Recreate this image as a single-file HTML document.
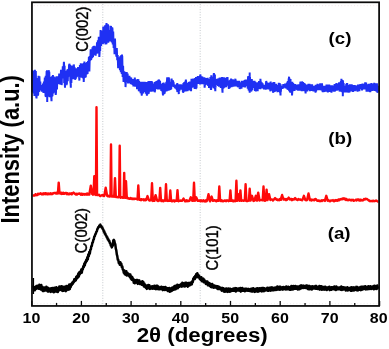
<!DOCTYPE html>
<html><head><meta charset="utf-8"><style>
html,body{margin:0;padding:0;background:#fff;width:389px;height:349px;overflow:hidden}
svg{display:block}
</style></head><body>
<svg width="389" height="349" viewBox="0 0 389 349" font-family="'Liberation Sans', Arial, sans-serif"><line x1="102.8" y1="4" x2="102.8" y2="305" stroke="#c4c8cc" stroke-width="1" stroke-dasharray="1 1.6"/>
<line x1="200.2" y1="4" x2="200.2" y2="305" stroke="#c4c8cc" stroke-width="1" stroke-dasharray="1 1.6"/>
<line x1="34" y1="5.7" x2="378" y2="5.7" stroke="#f3e3e8" stroke-width="0.9" stroke-dasharray="1 2.2"/>
<line x1="34" y1="303.7" x2="378" y2="303.7" stroke="#ececec" stroke-width="0.9" stroke-dasharray="1 2.2"/>
<polyline points="32.20,70.13 32.65,92.27 33.10,70.88 33.55,93.46 34.00,73.52 34.45,96.00 34.90,69.80 35.35,89.57 35.80,70.93 36.25,96.16 36.25,96.71 36.52,98.40 36.70,79.98 36.77,96.16 37.15,93.93 37.60,77.90 37.65,94.70 37.92,95.60 38.05,93.46 38.17,94.70 38.50,75.85 38.95,91.90 39.40,76.22 39.85,87.48 40.30,81.61 40.75,90.52 41.20,85.19 41.65,91.79 42.10,85.49 42.55,91.08 43.00,83.58 43.45,92.92 43.90,81.57 44.35,90.94 44.80,77.45 45.25,89.45 45.55,96.16 45.70,75.81 45.82,97.00 46.07,96.16 46.15,89.32 46.60,71.62 46.95,71.20 46.95,97.00 47.05,91.48 47.20,70.20 47.22,102.00 47.45,71.20 47.47,97.00 47.50,72.00 47.95,89.11 48.35,71.20 48.40,77.46 48.60,70.20 48.85,71.20 48.85,96.56 49.30,71.81 49.75,97.15 50.20,81.47 50.65,95.90 51.10,76.83 51.25,97.00 51.52,101.30 51.55,96.75 51.77,97.00 52.00,76.21 52.45,96.28 52.90,75.11 53.35,93.46 53.80,76.52 54.25,87.29 54.70,77.17 55.15,88.11 55.45,92.74 55.60,78.86 55.72,94.90 55.97,92.74 56.05,85.12 56.50,76.37 56.95,89.55 57.40,76.78 57.85,82.41 58.30,76.31 58.75,83.83 59.20,73.59 59.65,84.36 60.10,73.62 60.55,83.03 61.00,69.80 61.25,84.00 61.45,84.48 61.52,84.90 61.77,84.00 61.90,72.04 62.35,78.18 62.80,66.25 63.25,78.45 63.65,66.20 63.70,66.64 63.90,61.70 64.15,66.20 64.15,82.88 64.60,65.70 64.75,83.16 65.02,87.70 65.05,79.76 65.27,83.16 65.50,70.68 65.95,84.53 66.25,84.00 66.40,70.71 66.52,84.90 66.77,84.00 66.85,84.49 67.30,69.43 67.75,81.21 68.20,69.06 68.65,76.62 69.05,65.02 69.10,65.99 69.30,63.80 69.55,65.02 69.55,76.67 70.00,64.88 70.45,83.30 70.55,81.72 70.82,87.70 70.90,66.48 71.07,81.72 71.35,83.03 71.80,65.59 72.25,77.81 72.70,67.05 73.15,79.26 73.45,65.92 73.60,65.43 73.70,64.50 73.95,65.92 74.05,75.96 74.50,67.02 74.85,78.26 74.95,75.36 75.12,79.80 75.37,78.26 75.40,70.75 75.85,78.72 76.30,68.25 76.75,77.22 77.20,68.36 77.65,76.08 78.10,67.15 78.55,76.48 79.00,69.16 79.15,77.70 79.42,80.60 79.45,76.96 79.67,77.70 79.90,64.91 80.35,75.33 80.80,63.40 81.25,77.59 81.70,67.43 82.15,75.79 82.60,63.71 83.05,78.20 83.45,77.70 83.50,62.98 83.72,82.00 83.95,75.98 83.97,77.70 84.40,61.44 84.85,76.86 84.85,75.75 85.12,77.70 85.30,63.75 85.37,76.86 85.75,77.22 86.20,62.82 86.65,74.38 87.10,61.96 87.55,73.96 88.00,60.92 88.45,70.24 88.90,56.69 89.35,71.38 89.80,56.09 90.25,60.62 90.70,49.18 91.15,59.84 91.60,49.44 92.05,58.22 92.50,47.23 92.95,57.25 93.40,46.04 93.85,55.21 94.30,45.70 94.75,54.85 95.20,47.11 95.65,55.65 96.10,46.36 96.55,53.67 97.00,42.29 97.45,53.15 97.90,40.20 98.35,53.58 98.80,36.67 99.05,53.02 99.25,52.36 99.32,57.00 99.57,53.02 99.70,36.84 100.15,50.87 100.60,30.01 101.05,46.08 101.50,32.02 101.95,43.09 102.40,30.85 102.85,44.29 103.30,26.57 103.75,41.69 104.20,30.33 104.65,43.21 105.10,25.36 105.55,44.50 106.00,26.24 106.25,25.02 106.45,44.34 106.50,23.10 106.75,25.02 106.90,28.92 107.35,39.21 107.65,25.44 107.80,25.16 107.90,24.50 108.15,25.44 108.25,42.70 108.70,30.12 109.15,40.96 109.60,31.02 110.05,41.41 110.50,25.89 110.55,26.90 110.80,25.90 110.95,40.50 111.05,26.90 111.40,30.49 111.85,42.38 111.95,28.34 112.20,27.40 112.30,28.80 112.45,28.34 112.75,44.57 113.20,31.54 113.65,48.02 114.10,39.42 114.55,54.27 115.00,38.44 115.45,53.41 115.90,47.94 116.35,56.72 116.80,47.93 117.25,60.17 117.70,55.06 118.15,68.24 118.60,57.24 119.05,67.04 119.50,57.55 119.95,70.22 120.40,56.07 120.85,72.10 121.30,55.14 121.75,56.14 121.75,73.91 122.00,54.60 122.20,58.01 122.25,56.14 122.65,76.94 123.10,65.87 123.55,82.03 124.00,71.21 124.45,79.84 124.90,71.72 125.25,83.02 125.35,79.06 125.52,87.10 125.77,83.02 125.80,72.83 126.25,82.24 126.70,72.08 127.15,80.95 127.60,73.56 128.05,83.34 128.50,76.01 128.95,83.28 129.40,75.78 129.85,81.53 130.30,77.34 130.75,84.22 131.20,77.66 131.65,82.94 132.10,79.83 132.55,84.99 133.00,79.12 133.45,86.47 133.90,78.96 134.35,85.61 134.80,77.44 135.25,86.67 135.70,80.63 136.15,86.49 136.60,79.89 137.05,89.30 137.50,79.02 137.95,87.33 138.40,79.19 138.85,91.15 139.30,81.14 139.75,91.48 140.20,82.15 140.65,93.22 141.10,84.47 141.55,92.98 141.55,93.48 141.82,95.70 142.00,81.71 142.07,92.98 142.45,93.41 142.90,81.76 143.35,93.38 143.80,85.29 144.25,89.07 144.70,81.73 145.15,91.88 145.60,82.12 146.05,93.69 146.50,82.06 146.65,92.98 146.92,95.70 146.95,91.73 147.17,92.98 147.40,82.88 147.85,94.22 148.30,81.39 148.75,93.59 149.20,80.97 149.65,91.69 150.10,82.91 150.55,91.51 151.00,80.92 151.45,91.63 151.90,81.41 152.35,90.12 152.80,83.48 153.25,91.53 153.70,83.66 154.15,90.61 154.45,90.86 154.60,82.02 154.72,92.30 154.97,90.86 155.05,90.87 155.50,81.78 155.95,89.03 156.40,80.94 156.85,88.48 157.30,80.82 157.75,89.53 158.20,80.82 158.45,80.62 158.65,88.46 158.70,79.50 158.95,80.62 159.10,80.14 159.55,89.53 160.00,80.81 160.45,87.81 160.90,84.11 161.35,90.93 161.80,84.99 162.25,91.45 162.70,83.07 162.75,92.84 163.02,95.50 163.15,93.33 163.27,92.84 163.60,82.56 164.05,91.37 164.15,93.26 164.42,94.10 164.50,83.47 164.67,93.26 164.95,90.56 165.40,83.65 165.85,90.92 166.30,81.86 166.75,91.40 167.05,79.66 167.20,77.78 167.30,77.40 167.55,79.66 167.65,90.33 168.10,77.72 168.45,78.34 168.55,90.82 168.70,77.40 168.95,78.34 169.00,80.57 169.45,90.29 169.90,81.85 170.35,89.99 170.80,83.41 171.25,89.44 171.35,79.80 171.60,78.80 171.70,79.30 171.85,79.80 172.15,86.65 172.60,80.64 172.75,82.50 173.00,80.30 173.05,86.39 173.25,82.50 173.50,81.96 173.95,87.01 174.40,84.78 174.85,88.12 175.30,84.72 175.75,88.57 176.20,84.75 176.65,89.75 177.05,84.38 177.05,90.36 177.10,84.92 177.30,83.10 177.32,91.20 177.55,91.39 177.55,84.38 177.57,90.36 178.00,85.62 178.45,89.21 178.55,90.36 178.82,94.10 178.90,84.21 179.07,90.36 179.35,91.15 179.80,85.00 180.25,88.96 180.70,84.32 181.15,89.59 181.60,84.70 182.05,89.65 182.50,85.23 182.85,91.52 182.95,91.54 183.12,92.70 183.37,91.52 183.40,83.11 183.85,91.77 184.30,82.17 184.75,91.49 185.20,81.47 185.65,91.39 185.65,81.52 185.90,79.50 186.10,84.67 186.15,81.52 186.55,91.05 187.00,83.03 187.45,91.24 187.90,82.93 188.35,89.51 188.80,82.11 189.25,90.55 189.70,81.64 190.15,89.79 190.60,83.38 191.05,91.11 191.50,78.88 191.95,87.77 192.40,81.67 192.85,87.39 193.30,78.54 193.75,86.57 194.20,78.63 194.65,88.92 195.10,78.11 195.55,87.26 195.75,87.56 196.00,77.11 196.02,89.10 196.27,87.56 196.45,88.23 196.90,78.38 197.35,83.58 197.80,76.12 198.25,83.99 198.70,76.30 199.15,82.34 199.60,76.80 200.05,84.38 200.05,76.52 200.30,74.50 200.50,75.89 200.55,76.52 200.95,84.25 201.40,76.39 201.85,83.28 202.30,76.68 202.75,84.21 203.20,77.63 203.65,83.48 204.10,77.20 204.35,84.80 204.55,82.35 204.62,87.70 204.87,84.80 205.00,77.80 205.45,85.08 205.90,78.06 206.35,83.54 206.80,79.03 207.25,84.67 207.70,77.90 208.15,85.94 208.60,79.96 209.05,87.97 209.50,79.07 209.95,85.04 210.40,77.03 210.75,88.68 210.85,89.21 211.02,89.80 211.27,88.68 211.30,75.26 211.75,86.76 212.20,76.80 212.65,84.62 213.10,77.99 213.55,88.00 213.65,75.02 213.90,73.10 214.00,74.69 214.15,75.02 214.45,88.83 214.90,74.42 215.05,87.84 215.32,91.20 215.35,85.96 215.57,87.84 215.80,78.99 216.25,84.64 216.70,79.00 217.15,85.05 217.60,78.67 218.05,85.93 218.50,79.53 218.95,86.65 219.40,77.87 219.85,84.93 220.30,77.47 220.75,87.96 221.20,78.44 221.65,87.47 222.10,77.00 222.25,88.68 222.52,92.70 222.55,88.70 222.77,88.68 223.00,77.83 223.45,88.43 223.90,77.19 224.35,87.72 224.80,80.69 225.25,87.29 225.70,78.10 226.15,87.30 226.60,77.27 227.05,85.78 227.50,77.05 227.95,85.42 228.40,80.44 228.85,88.86 229.30,80.69 229.75,88.32 230.20,79.71 230.65,86.65 231.10,78.43 231.55,87.24 232.00,80.10 232.45,86.60 232.90,79.27 233.35,86.76 233.80,82.26 234.25,86.06 234.70,80.04 235.15,86.52 235.15,80.08 235.40,78.80 235.60,80.45 235.65,80.08 236.05,86.33 236.50,81.15 236.95,85.98 237.40,80.86 237.85,87.26 238.30,81.43 238.75,87.48 239.20,80.83 239.45,87.56 239.65,86.09 239.72,89.10 239.97,87.56 240.10,82.32 240.55,88.58 241.00,83.77 241.45,88.71 241.90,80.80 242.35,86.54 242.80,80.90 243.25,87.18 243.70,81.10 244.15,86.94 244.60,80.16 245.05,87.42 245.50,79.59 245.95,86.02 246.40,80.85 246.85,86.25 247.30,79.66 247.75,88.71 248.05,77.36 248.20,77.19 248.30,76.00 248.55,77.36 248.65,90.54 249.10,80.12 249.45,77.36 249.45,90.36 249.55,91.41 249.70,72.40 249.72,92.70 249.95,77.36 249.97,90.36 250.00,77.39 250.45,91.09 250.85,90.36 250.90,79.66 251.12,91.20 251.35,90.84 251.37,90.36 251.80,78.93 252.25,90.25 252.70,80.76 253.15,88.02 253.60,80.72 254.05,87.05 254.50,80.92 254.95,90.85 255.40,81.73 255.85,91.51 256.30,84.29 256.75,89.64 257.20,82.51 257.65,91.17 258.10,82.24 258.55,88.96 258.75,82.36 259.00,83.89 259.00,81.00 259.25,82.36 259.45,88.25 259.90,82.08 260.15,82.36 260.35,89.19 260.40,78.80 260.65,82.36 260.80,81.45 261.25,88.31 261.70,82.43 262.15,87.37 262.60,83.22 263.05,88.27 263.50,84.95 263.95,89.32 264.40,85.12 264.85,88.12 265.30,84.89 265.75,89.72 265.95,82.22 266.20,82.59 266.20,81.00 266.45,82.22 266.65,89.09 267.10,82.67 267.55,87.41 268.00,82.93 268.45,89.48 268.90,83.37 269.35,89.16 269.80,82.56 270.25,88.66 270.25,90.36 270.52,91.20 270.70,81.44 270.77,90.36 271.15,89.29 271.60,82.98 272.05,90.16 272.50,82.94 272.95,91.57 273.05,91.52 273.32,92.70 273.40,82.13 273.57,91.52 273.85,91.09 274.30,82.17 274.75,91.87 275.20,84.08 275.65,90.87 276.10,83.91 276.55,88.62 277.00,85.36 277.45,92.28 277.90,85.05 278.35,91.40 278.80,82.85 279.25,92.02 279.70,83.03 280.15,92.88 280.25,91.80 280.52,95.50 280.60,84.27 280.77,91.80 281.05,89.23 281.50,85.88 281.95,88.96 282.40,85.93 282.85,88.54 283.30,84.05 283.75,87.46 284.20,84.47 284.65,87.67 285.10,83.50 285.55,88.49 286.00,83.61 286.45,86.53 286.90,82.72 287.35,89.33 287.80,81.18 288.25,89.85 288.70,78.59 288.85,79.32 289.10,76.70 289.15,91.37 289.35,79.32 289.60,78.57 290.05,92.56 290.25,91.80 290.50,78.94 290.52,92.70 290.77,91.80 290.95,91.68 291.40,81.73 291.75,91.80 291.85,91.06 292.02,95.50 292.27,91.80 292.30,81.89 292.75,91.26 293.20,83.02 293.65,90.96 294.10,85.16 294.55,90.99 295.00,83.98 295.45,88.85 295.90,85.30 296.35,89.70 296.80,84.51 297.25,90.10 297.70,85.40 298.15,90.61 298.60,84.20 299.05,89.88 299.50,84.66 299.95,90.63 300.35,82.64 300.40,82.56 300.60,81.70 300.85,90.74 300.85,82.64 301.30,82.28 301.75,91.19 301.75,82.64 302.00,81.70 302.20,82.15 302.25,82.64 302.65,91.26 303.10,82.14 303.55,90.86 304.00,83.09 304.45,90.99 304.90,83.54 305.35,91.70 305.35,91.20 305.62,93.40 305.80,84.45 305.87,91.20 306.25,91.25 306.70,85.25 307.15,91.55 307.60,84.59 308.05,90.08 308.50,83.88 308.95,88.18 309.40,83.75 309.85,91.23 310.30,84.25 310.75,90.93 311.20,84.57 311.65,90.71 312.10,84.24 312.55,90.99 313.00,85.78 313.45,91.37 313.90,85.88 314.35,90.99 314.80,86.54 315.25,91.33 315.35,90.78 315.62,92.70 315.70,84.64 315.87,90.78 316.15,90.70 316.60,85.75 317.05,89.65 317.50,83.84 317.95,90.14 318.40,84.84 318.85,87.98 319.30,84.27 319.75,90.16 320.20,83.40 320.65,90.14 321.10,83.47 321.55,90.38 322.00,83.41 322.45,90.76 322.55,91.10 322.82,92.00 322.90,85.73 323.07,91.10 323.35,92.08 323.80,86.50 324.25,91.82 324.70,85.84 325.15,89.62 325.60,86.19 326.05,91.75 326.50,84.46 326.95,91.56 327.40,86.75 327.85,92.32 328.30,84.45 328.75,90.81 329.20,84.64 329.65,91.88 330.10,85.29 330.55,91.31 331.00,86.47 331.45,92.69 331.90,85.24 332.35,90.68 332.80,85.50 333.25,91.31 333.70,86.22 334.15,91.64 334.60,84.17 335.05,91.55 335.50,85.16 335.95,90.74 336.40,83.05 336.85,90.77 337.30,83.81 337.75,89.51 338.20,83.64 338.65,90.27 339.10,82.25 339.55,91.34 340.00,82.89 340.45,91.70 340.90,81.06 341.15,81.24 341.35,89.73 341.40,78.80 341.65,81.24 341.80,82.13 342.25,92.30 342.55,81.24 342.55,92.28 342.70,80.42 342.80,80.30 342.82,96.30 343.05,81.24 343.07,92.28 343.15,89.96 343.60,83.14 344.05,90.21 344.50,85.79 344.95,92.38 345.40,86.36 345.85,91.31 346.30,83.93 346.75,92.52 346.85,84.38 347.10,83.10 347.20,83.90 347.35,84.38 347.65,92.56 348.10,87.03 348.55,92.75 349.00,85.14 349.45,92.46 349.90,84.22 350.35,91.14 350.80,84.36 351.25,91.45 351.70,84.31 352.15,90.73 352.60,86.10 353.05,91.86 353.50,85.14 353.95,89.47 354.40,85.02 354.85,91.09 355.30,85.33 355.75,90.63 356.20,85.67 356.65,90.31 357.10,85.47 357.55,91.71 358.00,84.56 358.45,91.12 358.90,85.86 359.35,91.11 359.80,84.20 360.25,88.78 360.70,84.14 361.15,89.06 361.60,84.06 362.05,90.31 362.50,83.55 362.95,88.71 363.40,84.09 363.85,89.33 364.30,83.81 364.75,87.78 365.20,82.21 365.65,89.47 366.10,82.47 366.55,91.61 367.00,84.30 367.45,90.62 367.90,84.47 368.35,91.73 368.80,83.88 369.25,91.20 369.70,84.72 370.15,92.16 370.60,83.49 371.05,91.14 371.50,83.14 371.95,90.84 372.40,84.24 372.85,90.60 373.30,83.82 373.75,90.04 374.20,82.70 374.65,90.92 375.10,85.59 375.55,91.01 376.00,83.40 376.45,91.82 376.90,83.40 377.35,91.76 377.35,91.34 377.62,92.70 377.80,85.86 377.87,91.34 378.25,90.26" fill="none" stroke="#1f30f3" stroke-width="2.0" stroke-linejoin="miter" stroke-miterlimit="1.3"/>
<polyline points="32.50,195.46 33.00,195.53 33.50,195.51 34.00,195.62 34.50,195.27 35.00,195.42 35.50,194.17 36.00,194.65 36.50,195.18 37.00,194.71 37.50,194.95 38.00,193.84 38.50,194.22 39.00,193.84 39.50,194.14 40.00,194.10 40.50,193.35 41.00,193.59 41.50,193.65 42.00,194.46 42.50,194.25 43.00,193.44 43.50,194.25 44.00,193.37 44.50,193.97 45.00,193.31 45.50,193.13 46.00,194.24 46.50,193.36 47.00,193.35 47.50,194.33 48.00,194.16 48.50,193.39 49.00,194.24 49.50,193.67 50.00,193.83 50.50,193.20 51.00,194.14 51.50,193.80 52.00,194.15 52.50,194.04 53.00,193.25 53.50,193.31 54.00,193.05 54.50,193.00 55.00,192.88 55.50,193.18 56.00,193.55 56.50,192.76 57.00,193.62 57.90,193.34 58.70,182.70 59.50,193.34 60.00,193.28 60.50,193.59 61.00,192.77 61.50,193.98 62.00,192.76 62.50,193.73 63.00,193.87 63.50,192.82 64.00,193.84 64.50,193.31 65.00,193.61 65.50,192.89 66.00,192.96 66.50,193.16 67.00,194.18 67.50,193.22 68.00,193.97 68.50,194.21 69.00,194.25 69.50,193.49 70.00,193.53 70.50,193.77 71.00,194.12 71.50,193.27 72.00,194.12 72.10,193.86 73.50,192.50 74.90,193.86 75.00,193.71 75.50,194.08 76.00,194.50 76.50,193.77 77.00,194.54 77.50,194.07 78.00,193.79 78.50,193.81 79.00,193.65 79.50,193.54 80.00,193.65 80.50,194.37 81.00,194.79 81.50,193.73 82.00,193.60 82.50,194.84 83.00,194.27 83.50,194.12 84.00,193.92 84.50,194.40 85.00,194.72 85.50,194.22 86.00,194.16 86.50,193.66 87.00,194.76 87.50,193.59 88.00,194.16 88.50,194.59 89.00,193.65 89.50,194.41 89.40,194.05 90.80,185.70 92.20,194.05 92.50,193.64 93.00,194.65 93.50,194.46 94.30,176.10 95.10,194.46 95.95,194.90 96.50,107.20 97.05,194.90 97.50,195.07 98.00,194.93 98.50,195.11 99.00,194.81 99.50,195.14 100.00,195.97 100.50,195.96 101.00,195.57 101.50,195.43 102.00,195.26 102.50,194.97 103.00,195.24 103.50,195.93 104.00,196.08 104.30,195.80 105.70,187.70 107.10,195.80 107.50,195.83 108.00,196.33 108.50,195.84 109.00,196.16 109.50,196.59 110.45,196.37 111.00,144.50 111.55,196.37 112.00,196.54 112.50,195.84 113.00,196.57 113.50,196.22 114.20,196.65 115.00,178.10 115.80,196.65 116.00,197.11 116.50,196.56 117.00,196.98 117.50,197.13 118.00,197.29 119.15,196.98 119.70,145.70 120.25,196.98 120.50,197.69 121.00,197.74 121.50,197.24 122.00,197.32 122.50,196.92 123.00,197.87 123.65,197.60 124.20,172.90 124.75,197.60 125.20,197.86 126.00,181.30 126.80,197.86 127.00,198.11 127.50,198.30 128.00,198.06 128.50,198.40 129.00,198.68 129.50,198.58 130.00,198.77 130.50,197.95 131.00,198.20 131.50,198.64 132.00,199.00 132.50,198.49 133.00,199.15 133.50,199.14 134.00,198.43 134.50,199.04 135.00,198.78 135.50,198.61 136.00,198.77 136.50,199.07 137.00,198.95 137.50,199.51 138.30,185.50 139.10,199.51 139.50,199.79 140.00,199.82 140.50,199.38 141.00,200.27 141.50,199.13 142.00,199.68 142.50,199.54 143.00,199.73 143.50,199.37 144.00,200.33 144.50,199.76 145.00,199.35 145.50,200.12 146.00,199.47 146.10,200.07 147.50,196.10 148.90,200.07 149.00,200.04 149.50,200.58 150.00,200.38 150.50,200.05 151.20,200.26 152.00,183.30 152.80,200.26 153.00,200.90 153.50,200.45 154.00,200.13 154.50,200.85 154.20,200.37 155.60,195.10 157.00,200.37 157.50,200.59 158.00,200.95 158.50,200.29 159.40,200.51 160.20,187.90 161.00,200.51 161.50,201.14 162.00,201.10 162.50,200.70 163.00,200.28 163.50,201.23 164.00,200.62 164.50,200.53 165.20,200.68 166.00,184.20 166.80,200.68 167.00,200.68 167.50,200.23 168.00,200.90 168.50,200.68 169.00,200.50 169.50,200.80 170.30,190.50 171.10,200.80 171.50,200.51 172.00,201.37 172.50,201.17 173.00,200.47 173.50,200.50 174.00,200.35 174.50,201.44 175.00,200.53 175.50,200.94 176.00,200.77 176.70,200.80 177.50,190.20 178.30,200.80 178.50,201.14 179.00,200.54 179.50,200.84 180.00,200.59 180.50,200.54 181.00,200.84 181.50,200.75 182.00,200.62 182.10,200.80 183.50,198.60 184.90,200.80 185.00,201.34 185.50,201.30 186.00,200.86 186.50,200.17 187.00,201.16 187.50,200.71 188.00,200.90 188.50,201.07 189.00,200.97 189.50,200.78 189.40,200.80 190.80,197.30 192.20,200.80 192.50,200.54 193.20,200.80 194.00,182.70 194.80,200.80 195.00,200.71 194.80,200.80 196.20,197.30 197.60,200.80 198.00,200.86 198.50,200.80 199.00,200.58 199.50,200.35 200.00,200.91 200.50,201.21 201.00,200.24 201.50,200.45 202.00,201.22 202.50,201.18 203.00,201.01 203.50,200.18 204.00,201.09 204.50,201.42 205.00,201.45 205.50,201.06 206.00,200.21 206.50,201.24 207.00,200.44 207.10,200.80 208.50,194.20 209.90,200.80 210.00,201.34 210.50,200.34 210.20,200.80 211.60,196.60 213.00,200.80 213.50,200.29 214.00,200.64 214.50,200.24 215.00,200.22 215.50,200.90 216.00,201.12 216.50,201.29 217.00,200.32 217.50,200.71 218.00,200.56 218.50,200.80 219.30,186.50 220.10,200.80 220.50,200.22 221.00,201.06 221.50,200.35 222.00,200.97 222.50,200.81 223.00,201.33 223.50,200.87 224.00,200.96 224.50,200.49 225.00,200.87 225.50,200.48 226.00,201.13 226.50,200.82 227.00,200.32 227.50,200.45 228.00,200.63 228.50,201.11 229.00,200.38 229.60,200.80 230.40,190.40 231.20,200.80 231.50,200.25 232.00,200.29 232.50,200.90 233.00,200.43 233.50,201.26 234.00,200.73 234.50,200.53 235.00,201.14 235.60,200.74 236.40,180.70 237.20,200.74 236.70,200.72 238.10,194.10 239.50,200.72 239.60,200.70 240.40,190.40 241.20,200.70 241.50,200.85 242.00,200.49 242.50,200.33 243.00,200.45 243.50,200.81 244.00,200.46 244.80,200.64 245.60,184.20 246.40,200.64 246.50,201.03 247.00,200.54 247.50,201.08 248.00,200.64 248.50,200.74 248.90,200.60 249.70,188.80 250.50,200.60 250.60,200.58 252.00,195.80 253.40,200.58 253.50,200.90 254.00,199.91 254.50,200.52 254.40,200.54 255.80,195.80 257.20,200.54 256.80,200.52 258.20,192.70 259.60,200.52 260.00,200.05 260.50,200.16 261.00,200.16 261.50,199.98 262.00,200.12 262.70,200.32 263.50,186.50 264.30,200.32 264.50,200.10 265.00,200.82 265.80,200.17 266.60,189.60 267.40,200.17 267.50,199.63 267.60,200.05 269.00,194.10 270.40,200.05 270.50,199.59 271.00,199.33 271.50,199.57 272.00,199.35 272.50,199.75 273.00,200.47 273.50,199.65 274.00,199.56 273.70,199.75 275.10,198.10 276.50,199.75 277.00,199.31 277.50,199.85 278.00,200.17 278.50,199.76 279.00,199.46 279.50,200.14 280.00,198.86 280.50,198.93 281.00,199.87 280.70,199.51 282.10,195.00 283.50,199.51 284.00,199.33 284.50,198.99 285.00,198.97 285.50,200.05 286.00,199.52 286.50,200.10 287.00,198.95 287.50,199.20 287.30,199.54 288.70,197.60 290.10,199.54 290.50,199.30 291.00,198.97 291.50,198.96 292.00,200.17 292.50,199.15 293.00,199.58 293.50,199.44 294.00,199.61 293.70,199.58 295.10,198.10 296.50,199.58 297.00,199.71 297.50,200.05 298.00,199.22 298.50,198.97 299.00,199.65 299.50,199.58 300.00,199.69 300.50,199.46 301.00,199.81 301.50,199.97 302.00,200.24 302.50,199.47 302.50,199.79 303.90,195.80 305.30,199.79 305.50,199.34 306.00,200.25 306.50,200.34 307.00,199.71 307.10,200.03 308.50,193.50 309.90,200.03 310.00,200.20 310.50,199.79 311.00,199.58 311.50,200.44 312.00,199.61 312.50,199.83 313.00,199.97 313.50,200.11 314.00,199.78 314.10,200.38 315.50,198.90 316.90,200.38 317.00,200.65 317.50,200.81 318.00,200.60 318.50,200.45 319.00,200.96 319.50,200.78 320.00,201.19 320.50,200.90 321.00,200.87 321.50,200.32 322.00,201.03 322.50,200.48 323.00,200.16 323.50,200.08 324.00,200.22 324.50,200.35 325.00,200.90 324.90,200.68 326.30,195.80 327.70,200.68 328.00,200.12 328.50,200.23 329.00,200.53 329.50,201.19 330.00,201.32 330.50,200.89 331.00,200.40 331.50,200.66 332.00,200.58 332.50,200.55 333.00,200.14 333.50,200.89 334.00,201.21 334.50,201.09 335.00,200.27 335.50,200.71 336.00,200.11 336.50,200.68 337.00,200.21 337.50,200.72 338.00,200.40 338.50,199.39 339.00,199.52 339.50,200.17 340.00,199.45 340.50,199.21 341.00,199.02 341.50,199.25 342.00,199.27 342.50,198.54 343.00,198.91 343.50,198.62 344.00,198.18 344.50,199.31 345.00,199.00 345.50,198.72 346.00,200.12 346.50,198.98 347.00,199.78 347.50,199.74 348.00,200.35 348.50,199.80 349.00,199.66 349.50,199.82 350.00,199.81 350.50,200.27 351.00,200.00 351.50,200.50 352.00,199.83 352.50,199.97 353.00,199.83 353.50,200.77 354.00,200.58 354.50,200.59 355.00,200.28 355.50,199.99 356.00,199.64 356.50,200.53 357.00,200.08 357.50,199.48 358.00,199.65 358.50,199.55 359.00,200.34 359.50,200.57 360.00,199.66 360.50,200.42 361.00,199.80 361.50,200.26 362.00,200.49 362.50,200.17 363.00,200.39 363.50,199.67 364.00,199.03 364.50,199.52 365.00,199.45 365.50,198.76 366.00,198.86 366.50,199.01 367.00,198.89 367.50,199.51 368.00,199.85 368.50,200.22 369.00,200.76 369.50,200.41 370.00,201.21 370.50,201.04 371.00,201.22 371.50,200.96 372.00,200.97 372.50,200.84 373.00,201.22 373.50,200.70 374.00,201.04 374.50,201.19 375.00,201.03 375.50,200.76 376.00,200.53 376.50,200.59 377.00,200.98 377.50,201.31 378.00,201.59 378.50,201.57" fill="none" stroke="#ff0a0a" stroke-width="2.4" stroke-linejoin="round"/>
<polyline points="32.80,287.42 33.30,286.33 33.80,290.13 34.30,287.30 34.80,290.23 35.30,286.90 35.80,289.07 36.30,286.13 36.80,288.53 37.30,285.77 37.80,288.14 38.30,286.22 38.80,288.81 39.30,284.83 39.80,288.24 40.30,285.97 40.80,289.45 41.30,285.10 41.80,289.85 42.30,286.64 42.80,291.11 43.30,287.68 43.80,291.11 44.30,287.42 44.80,289.96 45.30,287.95 45.80,290.47 46.30,286.82 46.80,290.42 47.30,287.46 47.80,291.48 48.30,288.02 48.80,291.44 49.30,288.72 49.80,290.63 50.30,288.57 50.80,291.91 51.30,288.24 51.80,291.30 52.30,288.02 52.80,291.64 53.30,288.61 53.80,292.26 54.30,287.78 54.80,291.14 55.30,287.94 55.80,291.58 56.30,287.20 56.80,291.73 57.30,288.08 57.80,291.98 58.30,288.17 58.80,290.60 59.30,286.56 59.80,289.70 60.30,286.67 60.80,289.08 61.30,286.18 61.80,290.57 62.30,286.48 62.80,290.90 63.30,287.09 63.80,290.67 64.30,286.67 64.80,290.57 65.30,287.05 65.80,291.17 66.30,286.09 66.80,290.20 67.30,286.23 67.80,289.03 68.30,285.78 68.80,289.65 69.30,284.47 69.80,289.06 70.30,285.24 70.80,286.92 71.30,283.67 71.80,285.11 72.30,282.50 72.80,283.85 73.30,281.52 73.80,282.26 74.30,279.29 74.80,281.13 75.30,278.78 75.80,280.26 76.30,276.68 76.80,278.45 77.30,275.75 77.80,277.59 78.30,273.62 78.80,276.48 79.30,272.26 79.80,274.39 80.30,271.55 80.80,273.17 81.30,269.56 81.80,272.67 82.30,268.83 82.80,269.29 83.30,266.32 83.80,266.97 84.30,263.56 84.80,265.24 85.30,261.87 85.80,262.46 86.30,259.69 86.80,261.01 87.30,257.31 87.80,259.31 88.30,254.48 88.80,256.04 89.30,251.93 89.80,253.49 90.30,249.98 90.80,249.47 91.30,246.22 91.80,246.14 92.30,242.91 92.80,242.60 93.30,239.96 93.80,239.22 94.30,236.61 94.80,236.07 95.30,234.28 95.80,233.81 96.30,231.86 96.80,231.42 97.30,229.30 97.80,228.54 98.30,227.10 98.80,227.13 99.30,225.63 99.80,225.75 100.30,224.66 100.80,226.60 101.30,226.05 101.80,227.50 102.30,227.37 102.80,229.14 103.30,229.45 103.80,231.85 104.30,231.40 104.80,233.83 105.30,233.66 105.80,235.52 106.30,235.65 106.80,237.26 107.30,237.16 107.80,239.39 108.30,239.23 108.80,240.87 109.30,240.68 109.80,243.12 110.30,243.25 110.80,245.51 111.30,245.90 111.80,247.39 112.30,246.05 112.80,245.58 113.30,240.33 113.80,239.90 114.30,240.63 114.80,243.18 115.30,244.27 115.80,248.71 116.30,250.41 116.80,254.42 117.30,256.10 117.80,259.87 118.30,259.86 118.80,262.99 119.30,262.84 119.80,264.69 120.30,262.26 120.80,264.82 121.30,263.58 121.80,267.00 122.30,266.44 122.80,269.60 123.30,269.85 123.80,272.72 124.30,270.46 124.80,274.23 125.30,271.37 125.80,274.83 126.30,271.26 126.80,275.51 127.30,272.79 127.80,275.14 128.30,273.65 128.80,275.78 129.30,274.35 129.80,277.10 130.30,274.42 130.80,278.71 131.30,276.32 131.80,279.75 132.30,277.18 132.80,280.30 133.30,278.73 133.80,282.80 134.30,279.90 134.80,283.25 135.30,280.33 135.80,282.45 136.30,279.90 136.80,282.72 137.30,280.06 137.80,283.87 138.30,280.88 138.80,283.33 139.30,280.37 139.80,284.04 140.30,281.72 140.80,283.46 141.30,282.00 141.80,284.81 142.30,281.34 142.80,284.00 143.30,282.06 143.80,286.41 144.30,283.53 144.80,286.76 145.30,284.92 145.80,287.68 146.30,286.28 146.80,288.86 147.30,285.39 147.80,288.24 148.30,284.99 148.80,288.11 149.30,285.18 149.80,288.89 150.30,286.37 150.80,288.34 151.30,286.51 151.80,288.59 152.30,286.28 152.80,288.66 153.30,286.51 153.80,288.48 154.30,285.83 154.80,288.80 155.30,286.46 155.80,289.12 156.30,285.83 156.80,288.89 157.30,285.82 157.80,289.00 158.30,286.38 158.80,289.19 159.30,287.36 159.80,289.33 160.30,287.39 160.80,288.98 161.30,286.78 161.80,289.34 162.30,287.24 162.80,290.12 163.30,287.12 163.80,289.56 164.30,287.17 164.80,289.98 165.30,287.04 165.80,289.62 166.30,287.62 166.80,290.09 167.30,288.29 167.80,291.07 168.30,288.19 168.80,291.00 169.30,288.07 169.80,291.72 170.30,288.73 170.80,291.31 171.30,288.31 171.80,290.69 172.30,287.56 172.80,290.12 173.30,287.30 173.80,289.65 174.30,286.18 174.80,289.39 175.30,285.69 175.80,289.15 176.30,286.01 176.80,288.23 177.30,284.80 177.80,288.36 178.30,285.67 178.80,287.10 179.30,284.98 179.80,286.65 180.30,284.76 180.80,286.15 181.30,283.66 181.80,286.65 182.30,282.84 182.80,285.52 183.30,283.10 183.80,286.22 184.30,283.90 184.80,286.54 185.30,282.75 185.80,285.61 186.30,282.77 186.80,285.86 187.30,283.42 187.80,286.69 188.30,282.93 188.80,285.38 189.30,283.11 189.80,285.39 190.30,282.75 190.80,284.46 191.30,282.30 191.80,284.40 192.30,281.14 192.80,282.12 193.30,278.51 193.80,279.33 194.30,277.04 194.80,279.07 195.30,275.78 195.80,277.29 196.30,274.13 196.80,277.34 197.30,273.21 197.80,275.45 198.30,274.76 198.80,277.42 199.30,276.11 199.80,279.10 200.30,277.67 200.80,279.97 201.30,277.23 201.80,281.19 202.30,278.82 202.80,280.94 203.30,278.60 203.80,282.23 204.30,279.62 204.80,282.29 205.30,281.26 205.80,283.87 206.30,281.49 206.80,283.75 207.30,281.51 207.80,285.28 208.30,282.44 208.80,285.25 209.30,283.11 209.80,285.97 210.30,283.74 210.80,286.89 211.30,284.70 211.80,287.26 212.30,284.10 212.80,287.08 213.30,285.44 213.80,287.69 214.30,285.55 214.80,287.37 215.30,285.92 215.80,287.54 216.30,286.12 216.80,288.17 217.30,286.23 217.80,289.05 218.30,286.51 218.80,288.95 219.30,286.93 219.80,289.09 220.30,287.62 220.80,289.45 221.30,288.13 221.80,290.63 222.30,287.88 222.80,290.27 223.30,288.27 223.80,291.57 224.30,289.04 224.80,291.67 225.30,288.84 225.80,291.42 226.30,288.41 226.80,291.38 227.30,288.96 227.80,291.89 228.30,288.49 228.80,291.41 229.30,288.66 229.80,291.80 230.30,288.83 230.80,291.31 231.30,289.12 231.80,290.75 232.30,289.32 232.80,290.68 233.30,288.41 233.80,290.83 234.30,289.09 234.80,290.51 235.30,288.10 235.80,291.47 236.30,288.23 236.80,290.59 237.30,288.71 237.80,290.58 238.30,288.47 238.80,290.45 239.30,288.53 239.80,290.64 240.30,287.90 240.80,291.63 241.30,288.50 241.80,290.71 242.30,287.99 242.80,290.85 243.30,288.84 243.80,290.48 244.30,288.86 244.80,291.16 245.30,288.75 245.80,290.84 246.30,288.76 246.80,290.58 247.30,289.08 247.80,290.69 248.30,288.90 248.80,290.63 249.30,289.40 249.80,290.97 250.30,289.12 250.80,291.35 251.30,288.73 251.80,291.57 252.30,288.56 252.80,291.52 253.30,288.26 253.80,291.09 254.30,289.00 254.80,291.88 255.30,289.23 255.80,291.53 256.30,288.56 256.80,290.59 257.30,288.26 257.80,291.68 258.30,288.50 258.80,291.43 259.30,288.21 259.80,290.60 260.30,288.56 260.80,291.05 261.30,288.11 261.80,291.41 262.30,288.08 262.80,291.07 263.30,287.95 263.80,291.17 264.30,288.18 264.80,290.53 265.30,289.02 265.80,290.36 266.30,288.53 266.80,290.22 267.30,287.77 267.80,290.70 268.30,287.92 268.80,290.66 269.30,287.72 269.80,290.35 270.30,288.50 270.80,290.64 271.30,287.38 271.80,290.12 272.30,287.54 272.80,290.20 273.30,288.03 273.80,290.18 274.30,287.66 274.80,289.17 275.30,287.52 275.80,289.92 276.30,287.47 276.80,289.84 277.30,286.40 277.80,289.47 278.30,287.15 278.80,289.41 279.30,286.71 279.80,289.76 280.30,286.76 280.80,289.55 281.30,287.44 281.80,288.86 282.30,287.16 282.80,289.61 283.30,287.06 283.80,289.34 284.30,287.41 284.80,288.62 285.30,287.03 285.80,289.40 286.30,286.42 286.80,289.37 287.30,286.94 287.80,289.16 288.30,286.71 288.80,289.09 289.30,287.17 289.80,289.66 290.30,287.06 290.80,289.77 291.30,286.08 291.80,288.49 292.30,286.72 292.80,289.56 293.30,286.04 293.80,289.07 294.30,286.97 294.80,288.75 295.30,286.07 295.80,288.75 296.30,286.56 296.80,288.66 297.30,286.58 297.80,289.59 298.30,286.92 298.80,289.24 299.30,286.24 299.80,289.14 300.30,285.80 300.80,288.09 301.30,285.36 301.80,288.25 302.30,286.34 302.80,287.43 303.30,285.60 303.80,288.04 304.30,285.95 304.80,287.72 305.30,285.99 305.80,288.05 306.30,285.42 306.80,287.73 307.30,285.64 307.80,288.94 308.30,286.58 308.80,289.16 309.30,285.88 309.80,289.22 310.30,286.54 310.80,288.58 311.30,286.45 311.80,289.46 312.30,286.22 312.80,288.65 313.30,286.48 313.80,288.57 314.30,287.02 314.80,288.38 315.30,286.01 315.80,288.66 316.30,285.92 316.80,288.65 317.30,286.85 317.80,289.04 318.30,286.99 318.80,288.90 319.30,286.01 319.80,289.62 320.30,286.24 320.80,289.32 321.30,286.14 321.80,289.77 322.30,286.67 322.80,289.51 323.30,287.37 323.80,289.57 324.30,286.88 324.80,289.64 325.30,286.66 325.80,289.05 326.30,287.49 326.80,289.95 327.30,287.42 327.80,289.38 328.30,287.17 328.80,289.19 329.30,286.69 329.80,290.13 330.30,287.36 330.80,289.74 331.30,287.33 331.80,289.61 332.30,287.21 332.80,289.09 333.30,287.51 333.80,289.15 334.30,286.53 334.80,289.53 335.30,287.44 335.80,290.08 336.30,286.40 336.80,289.47 337.30,287.54 337.80,289.13 338.30,287.61 338.80,289.32 339.30,287.61 339.80,289.19 340.30,287.39 340.80,289.63 341.30,286.56 341.80,289.91 342.30,287.26 342.80,289.54 343.30,287.18 343.80,289.55 344.30,287.50 344.80,289.20 345.30,287.65 345.80,290.48 346.30,287.92 346.80,289.93 347.30,287.31 347.80,290.47 348.30,287.93 348.80,289.75 349.30,287.96 349.80,289.99 350.30,287.76 350.80,290.80 351.30,287.29 351.80,290.70 352.30,288.34 352.80,289.52 353.30,287.36 353.80,290.60 354.30,287.60 354.80,290.12 355.30,288.16 355.80,289.79 356.30,286.86 356.80,290.30 357.30,286.89 357.80,290.43 358.30,287.63 358.80,289.21 359.30,287.69 359.80,289.69 360.30,286.92 360.80,290.18 361.30,286.80 361.80,289.72 362.30,286.67 362.80,289.39 363.30,286.87 363.80,288.76 364.30,286.49 364.80,288.94 365.30,286.23 365.80,289.41 366.30,286.97 366.80,288.64 367.30,286.96 367.80,289.24 368.30,286.29 368.80,288.47 369.30,287.05 369.80,288.94 370.30,286.29 370.80,288.68 371.30,286.69 371.80,288.88 372.30,286.89 372.80,288.40 373.30,286.20 373.80,289.18 374.30,285.86 374.80,288.98 375.30,285.99 375.80,288.03 376.30,286.20 376.80,288.90 377.30,285.50 377.80,287.94 378.30,286.31" fill="none" stroke="#000" stroke-width="2.5" stroke-linejoin="round"/>
<line x1="33.3" y1="278" x2="33.3" y2="294" stroke="#000" stroke-width="1.6"/>
<rect x="31.95" y="2.3" width="347.15" height="303.65" fill="none" stroke="#0a0a0a" stroke-width="1.75"/>
<line x1="31.70" y1="305.9" x2="31.70" y2="300.9" stroke="#0a0a0a" stroke-width="1.3"/>
<line x1="56.55" y1="305.9" x2="56.55" y2="302.9" stroke="#0a0a0a" stroke-width="1.3"/>
<line x1="81.40" y1="305.9" x2="81.40" y2="300.9" stroke="#0a0a0a" stroke-width="1.3"/>
<line x1="106.25" y1="305.9" x2="106.25" y2="302.9" stroke="#0a0a0a" stroke-width="1.3"/>
<line x1="131.10" y1="305.9" x2="131.10" y2="300.9" stroke="#0a0a0a" stroke-width="1.3"/>
<line x1="155.95" y1="305.9" x2="155.95" y2="302.9" stroke="#0a0a0a" stroke-width="1.3"/>
<line x1="180.80" y1="305.9" x2="180.80" y2="300.9" stroke="#0a0a0a" stroke-width="1.3"/>
<line x1="205.65" y1="305.9" x2="205.65" y2="302.9" stroke="#0a0a0a" stroke-width="1.3"/>
<line x1="230.50" y1="305.9" x2="230.50" y2="300.9" stroke="#0a0a0a" stroke-width="1.3"/>
<line x1="255.35" y1="305.9" x2="255.35" y2="302.9" stroke="#0a0a0a" stroke-width="1.3"/>
<line x1="280.20" y1="305.9" x2="280.20" y2="300.9" stroke="#0a0a0a" stroke-width="1.3"/>
<line x1="305.05" y1="305.9" x2="305.05" y2="302.9" stroke="#0a0a0a" stroke-width="1.3"/>
<line x1="329.90" y1="305.9" x2="329.90" y2="300.9" stroke="#0a0a0a" stroke-width="1.3"/>
<line x1="354.75" y1="305.9" x2="354.75" y2="302.9" stroke="#0a0a0a" stroke-width="1.3"/>
<line x1="379.60" y1="305.9" x2="379.60" y2="300.9" stroke="#0a0a0a" stroke-width="1.3"/>
<text transform="translate(31.45,323) scale(1.16,1)" text-anchor="middle" font-size="13.8" font-weight="bold">10</text>
<text transform="translate(81.15,323) scale(1.16,1)" text-anchor="middle" font-size="13.8" font-weight="bold">20</text>
<text transform="translate(130.85,323) scale(1.16,1)" text-anchor="middle" font-size="13.8" font-weight="bold">30</text>
<text transform="translate(180.55,323) scale(1.16,1)" text-anchor="middle" font-size="13.8" font-weight="bold">40</text>
<text transform="translate(230.25,323) scale(1.16,1)" text-anchor="middle" font-size="13.8" font-weight="bold">50</text>
<text transform="translate(279.95,323) scale(1.16,1)" text-anchor="middle" font-size="13.8" font-weight="bold">60</text>
<text transform="translate(329.65,323) scale(1.16,1)" text-anchor="middle" font-size="13.8" font-weight="bold">70</text>
<text transform="translate(378.70,323) scale(1.16,1)" text-anchor="middle" font-size="13.8" font-weight="bold">80</text>
<text transform="translate(202.2,342.2) scale(1.145,1)" text-anchor="middle" font-size="19.5" font-weight="bold">2θ (degrees)</text>
<text transform="translate(19.3,149.3) scale(1.19,1) rotate(-90)" text-anchor="middle" font-size="21.9" font-weight="bold">Intensity (a.u.)</text>
<text transform="translate(340,44.3) scale(1.17,1)" text-anchor="middle" font-size="16" font-weight="bold">(c)</text>
<text transform="translate(340.2,144.3) scale(1.17,1)" text-anchor="middle" font-size="16" font-weight="bold">(b)</text>
<text transform="translate(339.1,239.3) scale(1.17,1)" text-anchor="middle" font-size="16" font-weight="bold">(a)</text>
<text transform="translate(87.9,29.2) scale(1.15,1) rotate(-90)" text-anchor="middle" font-size="14.8" stroke="#000" stroke-width="0.35">C(002)</text>
<text transform="translate(86.9,230.6) scale(1.15,1) rotate(-90)" text-anchor="middle" font-size="14.8" stroke="#000" stroke-width="0.35">C(002)</text>
<text transform="translate(218.2,247.9) scale(1.15,1) rotate(-90)" text-anchor="middle" font-size="14.8" stroke="#000" stroke-width="0.35">C(101)</text></svg>
</body></html>
